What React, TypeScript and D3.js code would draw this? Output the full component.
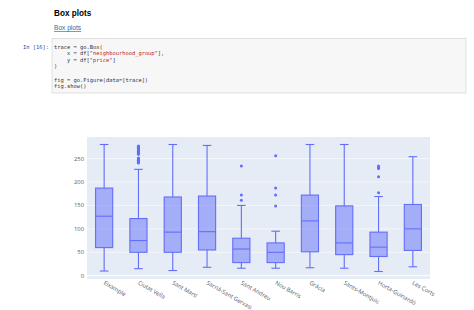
import React from "react";
import * as d3 from "d3";

// Neighbourhood groups and price distributions (box statistics)
const categories = [
  "Eixample",
  "Ciutat Vella",
  "Sant Martí",
  "Sarrià-Sant Gervasi",
  "Sant Andreu",
  "Nou Barris",
  "Gràcia",
  "Sants-Montjuïc",
  "Horta-Guinardó",
  "Les Corts",
];
const lowerFence = [10, 15, 11, 18, 16, 16, 17, 16, 9, 19];
const q1Values = [60, 50, 50, 55, 28, 28, 51, 45, 41, 54];
const medians = [127, 75, 93, 94, 57, 50, 117, 70, 61, 100];
const q3Values = [187, 122, 168, 170, 80, 70, 172, 149, 93, 152];
const upperFence = [280, 227, 280, 278, 150, 95, 280, 280, 169, 254];
const outliers: number[][] = [
  [],
  [277, 275.5, 274, 272.5, 271, 269.5, 268, 266.5, 265, 263.5, 262, 260.5, 259, 251, 249.5, 248, 246.5, 245, 243.5, 242, 240.5],
  [],
  [],
  [234, 172, 161],
  [256, 187, 172, 149],
  [],
  [],
  [234, 231, 229, 211, 177],
  [],
];
const yTicks = [0, 50, 100, 150, 200, 250];

// Notebook cell content
const codeLines: { text: string; color: string }[][] = [
  [{ text: "trace = go.Box(", color: "#333" }],
  [
    { text: "    x = df[", color: "#333" },
    { text: '"neighbourhood_group"', color: "#ba2121" },
    { text: "],", color: "#333" },
  ],
  [
    { text: "    y = df[", color: "#333" },
    { text: '"price"', color: "#ba2121" },
    { text: "]", color: "#333" },
  ],
  [{ text: ")", color: "#333" }],
  [],
  [{ text: "fig = go.Figure(data=[trace])", color: "#333" }],
  [{ text: "fig.show()", color: "#333" }],
];

const W = 474;
const H = 310;
const BOX = "#636efa";
const FILL = "rgba(99,110,250,0.5)";
const TXT = "#555b66";

export default function App() {
  const x = d3.scaleBand<string>().domain(categories).range([87, 430]);
  const y = d3.scaleLinear().domain([-7, 296]).range([279, 137]);
  const bw = x.bandwidth() * 0.5;
  const cap = bw * 0.5;
  const font = "'Open Sans', 'Liberation Sans', Arial, sans-serif";
  const mono = "'DejaVu Sans Mono', monospace";

  return (
    <svg
      width={W}
      height={H}
      style={{ position: "fixed", left: 0, top: 0, background: "#fff" }}
    >
      {/* Markdown heading and link */}
      <text x={54} y={16} fontFamily="'Liberation Sans', Arial, sans-serif" fontWeight="bold" fontSize={8.2} fill="#000">
        Box plots
      </text>
      <text
        x={54}
        y={30}
        fontFamily="'Liberation Sans', Arial, sans-serif"
        fontSize={6.6}
        fill="#296eaa"
        textDecoration="underline"
      >
        Box plots
      </text>

      {/* Code cell */}
      <text x={23} y={48.5} fontFamily={mono} fontSize={5.4} fill="#303f9f">
        In [16]:
      </text>
      <rect x={52} y={38.5} width={414} height={54.5} fill="#f7f7f7" stroke="#cfcfcf" strokeWidth={0.6} />
      {codeLines.map((line, i) => (
        <text
          key={i}
          x={54}
          y={48.5 + i * 6.6}
          fontFamily={mono}
          fontSize={5.4}
          xmlSpace="preserve"
          style={{ whiteSpace: "pre" }}
        >
          {line.map((seg, j) => (
            <tspan key={j} fill={seg.color}>
              {seg.text}
            </tspan>
          ))}
        </text>
      ))}

      {/* Plot background and grid */}
      <rect x={87} y={137} width={343} height={142} fill="#e5ecf6" />
      {yTicks.map((t) => (
        <g key={t}>
          <line
            x1={87}
            x2={430}
            y1={y(t)}
            y2={y(t)}
            stroke="#fff"
            strokeWidth={t === 0 ? 1 : 0.6}
          />
          <text
            x={84}
            y={y(t)}
            dy="0.35em"
            textAnchor="end"
            fontFamily={font}
            fontSize={5.8}
            fill={TXT}
          >
            {t}
          </text>
        </g>
      ))}

      {/* Boxes */}
      {categories.map((c, i) => {
        const cx = (x(c) as number) + x.bandwidth() / 2;
        return (
          <g key={c} stroke={BOX} strokeWidth={1.1} fill="none">
            <line x1={cx} x2={cx} y1={y(upperFence[i])} y2={y(q3Values[i])} />
            <line x1={cx} x2={cx} y1={y(q1Values[i])} y2={y(lowerFence[i])} />
            <line x1={cx - cap / 2} x2={cx + cap / 2} y1={y(upperFence[i])} y2={y(upperFence[i])} />
            <line x1={cx - cap / 2} x2={cx + cap / 2} y1={y(lowerFence[i])} y2={y(lowerFence[i])} />
            <rect
              x={cx - bw / 2}
              y={y(q3Values[i])}
              width={bw}
              height={y(q1Values[i]) - y(q3Values[i])}
              fill={FILL}
            />
            <line x1={cx - bw / 2} x2={cx + bw / 2} y1={y(medians[i])} y2={y(medians[i])} />
            {outliers[i].map((v, k) => (
              <circle key={k} cx={cx} cy={y(v)} r={1.5} fill={BOX} stroke="none" />
            ))}
          </g>
        );
      })}

      {/* Category labels */}
      {categories.map((c) => {
        const cx = (x(c) as number) + x.bandwidth() / 2;
        return (
          <text
            key={c}
            transform={`translate(${cx - 1},${284}) rotate(30)`}
            fontFamily={font}
            fontSize={5.8}
            fill={TXT}
          >
            {c}
          </text>
        );
      })}
    </svg>
  );
}
